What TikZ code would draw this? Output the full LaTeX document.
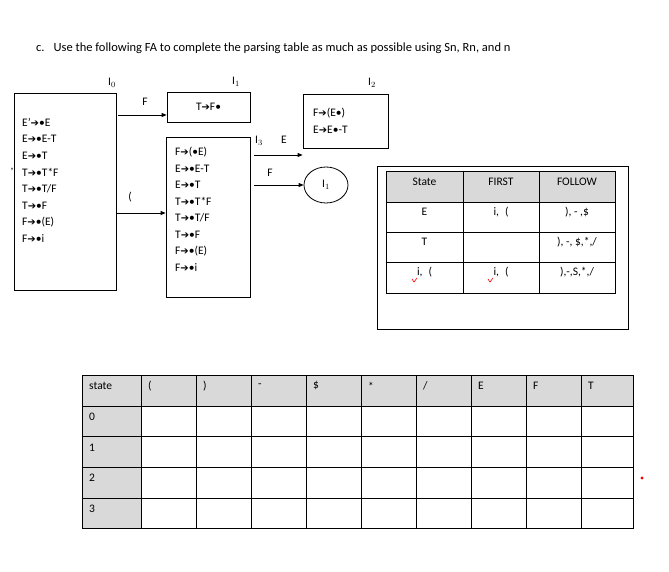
\documentclass[tikz,border=0pt]{standalone}
\usepackage{fontspec}
\setmainfont{Carlito}
\newfontfamily\dv{DejaVu Sans}
\usetikzlibrary{arrows.meta,shapes.geometric}
\newcommand{\ar}{{\dv\fontsize{10}{12}\selectfont ➔}}
\begin{document}
\begin{tikzpicture}[x=1pt,y=-1pt,font=\fontsize{11.5}{13}\selectfont,
  box/.style={draw,line width=0.8pt},
  lbl/.style={inner sep=0pt,anchor=west},
  con/.style={-{Triangle[length=5pt,width=4pt]},line width=0.8pt}]
\useasboundingbox (0,0) rectangle (669,572);
\node[lbl,font=\fontsize{12.5}{14}\selectfont] (title) at (36,48) {c.\hspace{9pt}Use the following FA to complete the parsing table as much as possible using Sn, Rn, and n};
% I0
\node[box,minimum width=102pt,minimum height=197pt,inner sep=0pt] (i0) at (65,191.5) {};
\node (i0l) at (112,83) {I$_0$};
\foreach \t [count=\k] in {E’\ar•E,E\ar•E-T,E\ar•T,T\ar•T*F,T\ar•T/F,T\ar•F,F\ar•(E),F\ar•i}
  \node[lbl] (a\k) at (22,{122+(\k-1)*16.7}) {\t};
\node (tick) at (12,170) {,};
% I1
\node[box,minimum width=83pt,minimum height=30pt,inner sep=0pt] (i1) at (208.5,107) {T\ar F•};
\node (i1l) at (236,82) {I$_1$};
% middle
\node[box,minimum width=84pt,minimum height=160pt,inner sep=0pt] (m) at (208,217) {};
\foreach \t [count=\k] in {F\ar(•E),E\ar•E-T,E\ar•T,T\ar•T*F,T\ar•T/F,T\ar•F,F\ar•(E),F\ar•i}
  \node[lbl] (b\k) at (175,{152+(\k-1)*16.5}) {\t};
% I2
\node[box,minimum width=85pt,minimum height=54pt,inner sep=0pt] (i2) at (345.5,121) {};
\node (i2l) at (372,83) {I$_2$};
\node[lbl] (c1) at (313,113) {F\ar(E•)};
\node[lbl] (c2) at (313,130) {E\ar E•-T};
% ellipse
\node[draw,line width=0.8pt,ellipse,minimum width=44pt,minimum height=36pt,inner sep=0pt] (e) at (326,185) {I$_1$};
% connectors
\coordinate (s1) at (118,115); \draw[con] (s1) -- (i1.west|-s1);
\node (f1) at (145,102) {F};
\coordinate (s2) at (117,213); \draw[con] (s2) -- (m.west|-s2);
\node (p1) at (130,197) {(};
\coordinate (s3) at (254,155); \draw[con] (s3) -- (i2.west|-s3);
\node (i3l) at (259,141) {I$_3$}; \node (e1) at (284,140) {E};
\coordinate (s4) at (254,185); \draw[con] (s4) -- (e.west);
\node (f2) at (270,173) {F};
% first/follow table
\node[box,minimum width=251pt,minimum height=163pt,inner sep=0pt] (outer) at (502.5,247.5) {};
\fill[gray!30] (386,171) rectangle (615,202);
\draw[line width=0.8pt] (386,171) rectangle (615,293);
\foreach \y in {202,232,262} \draw[line width=0.8pt] (386,\y) -- (615,\y);
\foreach \x in {463,539} \draw[line width=0.8pt] (\x,171) -- (\x,293);
\node (h1) at (424.5,182) {State}; \node (h2) at (501,182) {FIRST}; \node (h3) at (577,182) {FOLLOW};
\node (r1) at (424.5,212) {E}; \node (r2) at (501,212) {i,\hspace{6pt}(}; \node (r3) at (577,212) {), - ,\$};
\node (r4) at (424.5,242) {T}; \node (r6) at (577,242) {), -, \$,*,/};
\node (r7) at (424.5,272) {i,\hspace{6pt}(}; \node (r8) at (501,272) {i,\hspace{6pt}(}; \node (r9) at (577,272) {),-,S,*,/};
\draw[red,line width=0.6pt] (412,279) -- (414,282) -- (417,278);
\draw[red,line width=0.6pt] (488,279) -- (490,282) -- (493,278);
% parsing table
\fill[gray!30] (82,375) rectangle (633,406);
\fill[gray!30] (82,375) rectangle (141,528);
\draw[line width=0.8pt] (82,375) rectangle (633,528);
\foreach \y in {406,436,467,498} \draw[line width=0.8pt] (82,\y) -- (633,\y);
\foreach \k in {0,...,8} \draw[line width=0.8pt] ({141+55*\k},375) -- ({141+55*\k},528);
\node[lbl] (st) at (89,386) {state};
\node[lbl] (hA) at (148,386) {(};
\node[lbl] (hB) at (203,386) {)};
\node[lbl] (hC) at (258,386) {-};
\node[lbl] (hD) at (313,386) {\$};
\node[lbl] (hE) at (368,386) {*};
\node[lbl] (hF) at (423,386) {/};
\node[lbl] (hG) at (478,386) {E};
\node[lbl] (hH) at (533,386) {F};
\node[lbl] (hI) at (588,386) {T};
\foreach \t/\y in {0/417,1/448,2/478,3/509} \node[lbl] (n\t) at (89,\y) {\t};
\fill[red] (642,478) circle (1.6pt);
\end{tikzpicture}
\end{document}
